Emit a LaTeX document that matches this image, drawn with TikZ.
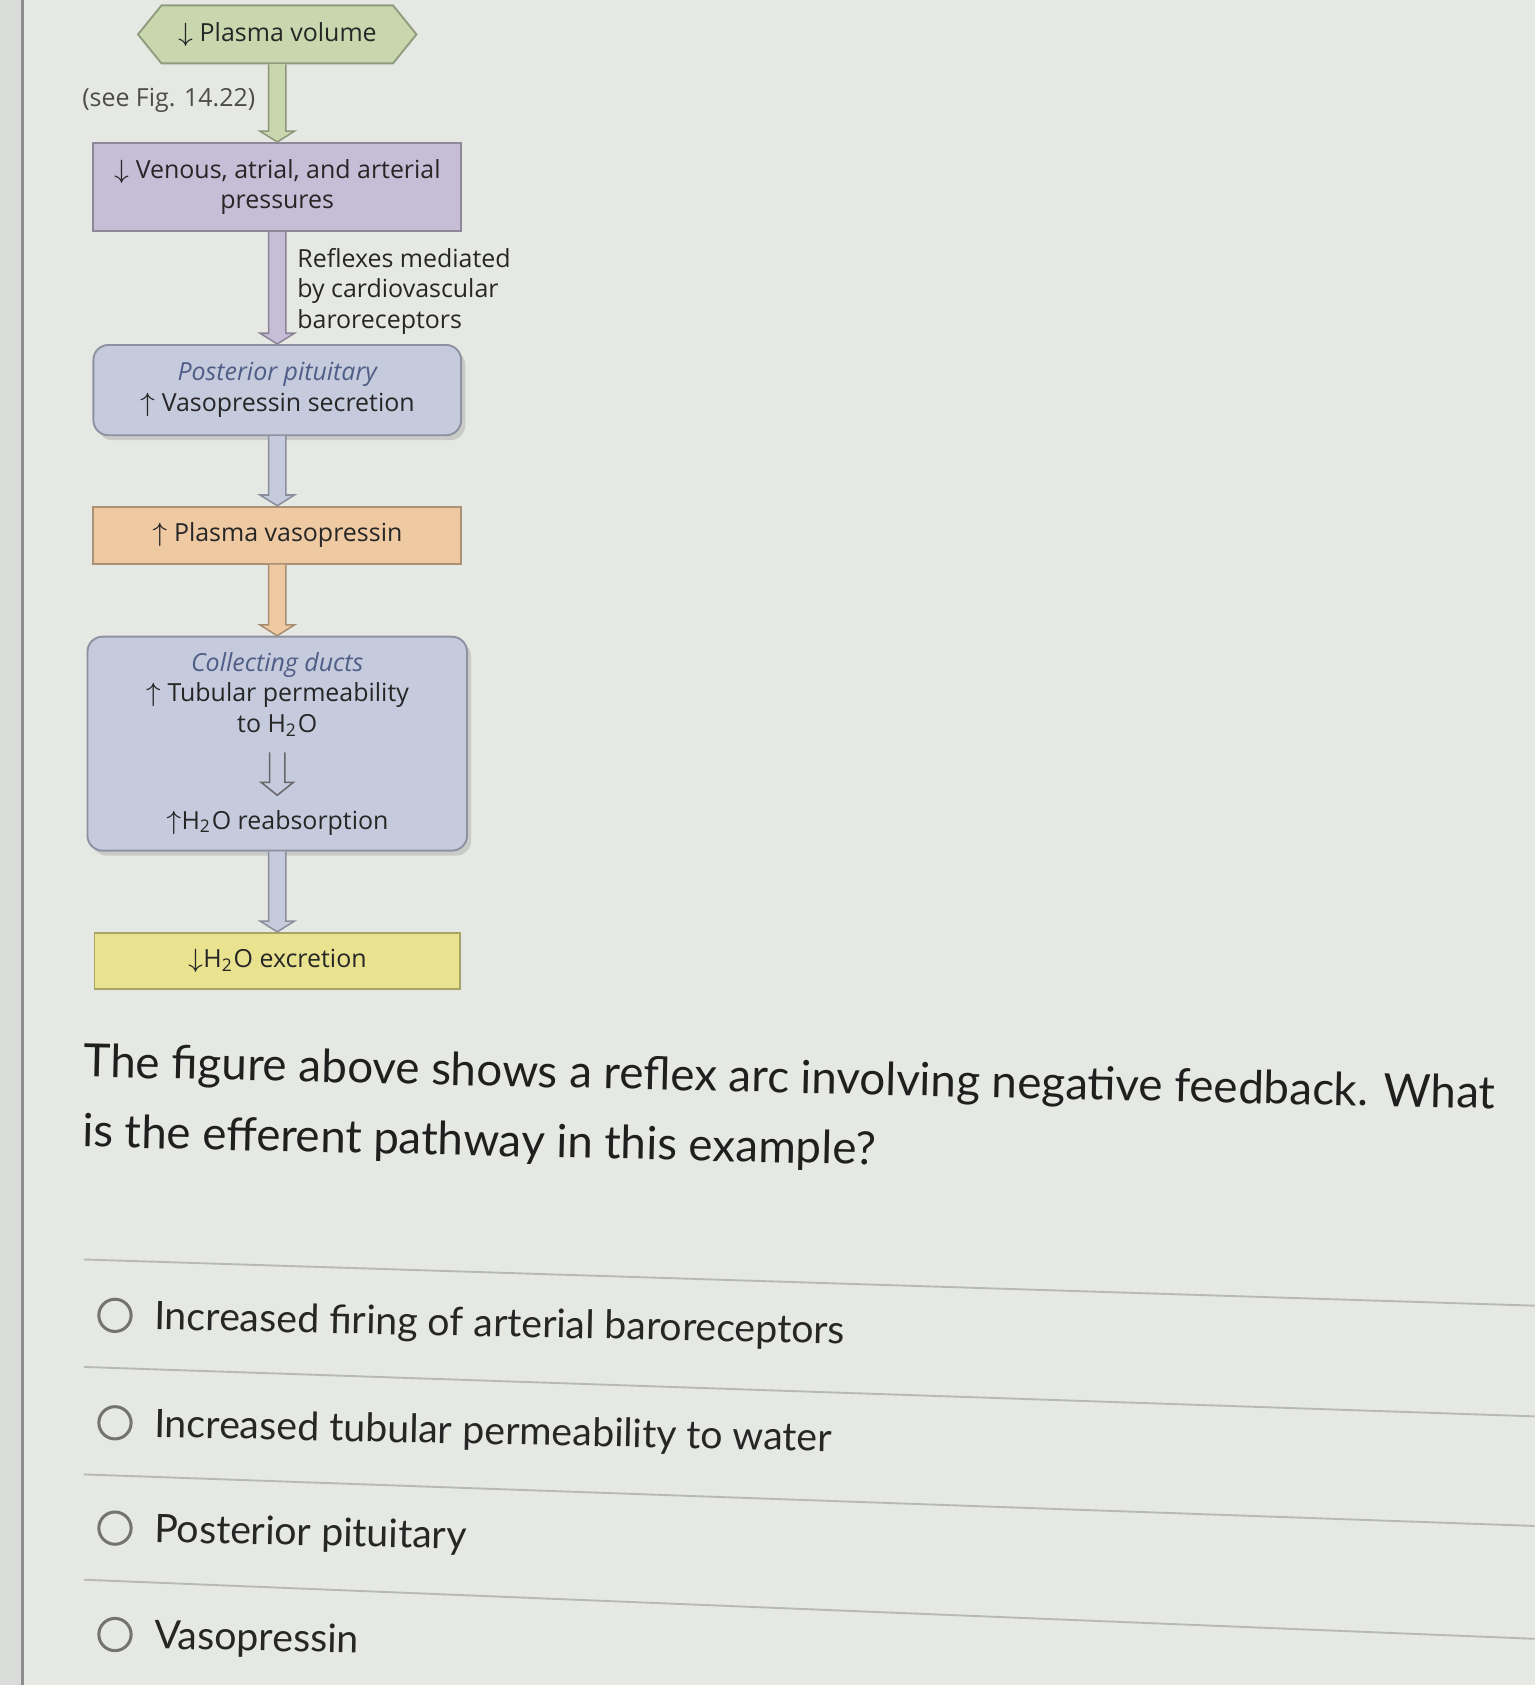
\documentclass[tikz,border=0pt]{standalone}
\usepackage{fontspec}
\setmainfont{Lato}
\newfontfamily\diagfamily{Open Sans}
\usepackage{xcolor}
\usepackage{tikz}
\usetikzlibrary{shapes.symbols,shadows,calc}

\definecolor{pagebg}{HTML}{E6E8E4}
\definecolor{stripbg}{HTML}{DADCD9}
\definecolor{greenfill}{HTML}{C9D7AE}
\definecolor{lilac}{HTML}{C6BDD7}
\definecolor{bluegray}{HTML}{C5CADD}
\definecolor{peach}{HTML}{EEC9A2}
\definecolor{lemon}{HTML}{E9E28F}
\definecolor{ductblue}{HTML}{4F5E86}
\definecolor{inktext}{HTML}{262626}

\newcommand{\incr}{$\uparrow$}
\newcommand{\decr}{$\downarrow$}
\newcommand{\diagsize}{\diagfamily\fontsize{6.6}{8.1}\selectfont}

\begin{document}
\begin{tikzpicture}[
    x=0.01cm, y=-0.01cm,
    box/.style={rectangle, draw=#1!72!black, fill=#1, line width=0.5pt, font=\diagsize, text=inktext, align=center, inner sep=1pt, minimum width=3.42cm},
    roundbox/.style={box=#1, rounded corners=4pt, drop shadow={shadow xshift=1.1pt, shadow yshift=-1.3pt, opacity=0.28}},
    fatarrow/.style={fill=#1, draw=#1!70!black, line width=0.4pt},
    option/.style={anchor=west, inner sep=0pt, font=\fontsize{10.4}{13}\selectfont, text=inktext, rotate=-1.2},
    radio/.style={circle, draw=black!55, line width=0.8pt, minimum size=0.3cm, inner sep=0pt}
]
\useasboundingbox (0,0) rectangle (1428,1568);
\fill[pagebg] (0,0) rectangle (1428,1568);
\fill[stripbg] (0,0) rectangle (21,1568);
\draw[black!45, line width=0.6pt] (21,0) -- (21,1568);

% flow chart
\node[signal, signal to=east and west, signal pointer angle=102, draw=greenfill!72!black, fill=greenfill, line width=0.5pt, minimum width=2.59cm, minimum height=0.54cm, inner sep=0pt, font=\diagsize, text=inktext] (plasmavol) at (258,32) {\decr\ Plasma volume};
\node[font=\diagsize, text=black!70] (seefig) at (157,93) {(see Fig. 14.22)};
\node[box=lilac, minimum height=0.82cm] (pressures) at (258,174) {\decr\ Venous, atrial, and arterial\\pressures};
\node[font=\diagsize, text=inktext, align=left, anchor=west, inner sep=0pt] (reflex) at (276,271) {Reflexes mediated\\by cardiovascular\\baroreceptors};
\node[roundbox=bluegray, minimum height=0.84cm] (pituitary) at (258,363) {{\color{ductblue}\itshape Posterior pituitary}\\\incr\ Vasopressin secretion};
\node[box=peach, minimum height=0.53cm] (vasopressin) at (258,498) {\incr\ Plasma vasopressin};
\node[roundbox=bluegray, minimum width=3.53cm, minimum height=1.99cm] (ducts) at (258,692) {{\color{ductblue}\itshape Collecting ducts}\\\incr\ Tubular permeability\\to H\textsubscript{2}O\\[17.5pt]\incr H\textsubscript{2}O reabsorption};
\node[box=lemon, minimum width=3.4cm, minimum height=0.52cm] (excretion) at (258,894) {\decr H\textsubscript{2}O excretion};

% block arrows between boxes
\foreach \src/\dst/\col in {plasmavol/pressures/greenfill, pressures/pituitary/lilac, pituitary/vasopressin/bluegray, vasopressin/ducts/peach, ducts/excretion/bluegray}
  \filldraw[fatarrow=\col] ($(\src.south)+(-8,0)$) -- ($(\dst.north)+(-8,-10)$) -- ($(\dst.north)+(-16,-10)$) -- (\dst.north) -- ($(\dst.north)+(16,-10)$) -- ($(\dst.north)+(8,-10)$) -- ($(\src.south)+(8,0)$);

% hollow arrow inside the collecting ducts box
\draw[black!60, line width=0.4pt] ($(ducts.center)+(-7,8)$) -- ($(ducts.center)+(-7,36)$) -- ($(ducts.center)+(-15,36)$) -- ($(ducts.center)+(0,48)$) -- ($(ducts.center)+(15,36)$) -- ($(ducts.center)+(7,36)$) -- ($(ducts.center)+(7,8)$);

% question
\node[anchor=north west, align=left, inner sep=0pt, rotate=-1.3, font=\fontsize{12.1}{18.5}\selectfont, text=black!88] (question) at (78,970) {The figure above shows a reflex arc involving negative feedback. What\\is the efferent pathway in this example?};

% answer rows
\foreach \yl/\yr in {1172/1215, 1272/1318, 1372/1420, 1470/1525}
  \draw[black!28, line width=0.5pt] (78,\yl) -- (1428,\yr);
\foreach \y/\txt [count=\i] in {1224/Increased firing of arterial baroreceptors, 1324/Increased tubular permeability to water, 1422/Posterior pituitary, 1521/Vasopressin} {
  \node[radio] (radio\i) at (107,\y) {};
  \node[option] (opt\i) at (143,\y+3) {\txt};
}
\end{tikzpicture}
\end{document}
